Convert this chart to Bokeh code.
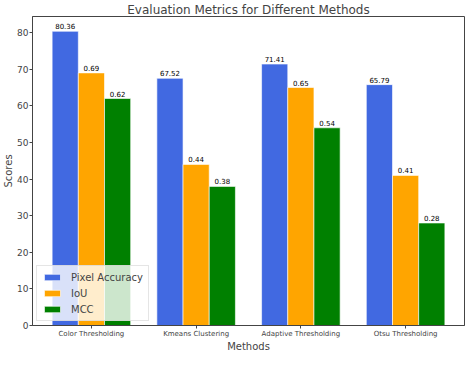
from bokeh.plotting import figure
from bokeh.models import ColumnDataSource, FactorRange, Legend, LegendItem, FixedTicker
from bokeh.transform import dodge
from bokeh.core.properties import value
from bokeh.embed import file_html
from bokeh.resources import INLINE

methods = ["Color Thresholding", "Kmeans Clustering", "Adaptive Thresholding", "Otsu Thresholding"]
pixel_accuracy = [80.36, 67.52, 71.41, 65.79]
iou = [0.69, 0.44, 0.65, 0.41]
mcc = [0.62, 0.38, 0.54, 0.28]
y_ticks = [0, 10, 20, 30, 40, 50, 60, 70, 80]

src = ColumnDataSource(dict(
    m=methods,
    pa=pixel_accuracy,
    iou=[v * 100 for v in iou],
    mcc=[v * 100 for v in mcc],
    pa_t=[f"{v:.2f}" for v in pixel_accuracy],
    iou_t=[f"{v:.2f}" for v in iou],
    mcc_t=[f"{v:.2f}" for v in mcc],
))

FONT = "DejaVu Sans"
p = figure(width=466, height=362, x_range=FactorRange(*methods, range_padding=0.03125),
           y_range=(0, 84.4), output_backend="svg", toolbar_location=None,
           title="Evaluation Metrics for Different Methods",
           min_border_left=0, min_border_right=2, min_border_bottom=37, min_border_top=0)

p.title.align = "center"
p.title.text_font = FONT
p.title.text_font_size = "12px"
p.title.text_font_style = "normal"
p.title.standoff = 0

w = 0.25
cols = [("pa", "pa_t", -0.25, "#4169E1", "Pixel Accuracy"),
        ("iou", "iou_t", 0.0, "#FFA500", "IoU"),
        ("mcc", "mcc_t", 0.25, "#008000", "MCC")]
items = []
for key, tkey, off, color, name in cols:
    r = p.vbar(x=dodge("m", off, range=p.x_range), top=key, width=w, source=src,
               fill_color=color, line_color="white", line_width=0.6)
    items.append(LegendItem(label=name, renderers=[r]))
    p.text(x=dodge("m", off, range=p.x_range), y=key, text=tkey, source=src,
           text_align="center", text_baseline="bottom", text_font=value(FONT),
           text_font_size="7px", text_color="black", y_offset=-2)

legend = Legend(items=items, location="bottom_left", label_text_font=FONT,
                label_text_font_size="10px", background_fill_alpha=0.8,
                border_line_color="#cccccc", glyph_width=20, glyph_height=8,
                label_height=12, spacing=4, padding=5, margin=4,
                label_standoff=9)
p.add_layout(legend)

p.xgrid.visible = False
p.ygrid.visible = False
p.outline_line_color = "#444444"
p.outline_line_width = 1

p.yaxis.ticker = FixedTicker(ticks=y_ticks)
for ax in (p.xaxis, p.yaxis):
    ax.axis_line_color = "#444444"
    ax.major_tick_line_color = "#444444"
    ax.minor_tick_line_color = None
    ax.major_tick_in = 0
    ax.major_tick_out = 3
    ax.major_label_text_font = FONT
    ax.axis_label_text_font = FONT
    ax.axis_label_text_font_style = "normal"
    ax.axis_label_text_font_size = "10px"
    ax.major_label_standoff = 1

p.xaxis.major_label_text_font_size = "7px"
p.yaxis.major_label_text_font_size = "9px"
p.xaxis.axis_label = "Methods"
p.yaxis.axis_label = "Scores"
p.xaxis.axis_label_standoff = 0
p.yaxis.axis_label_standoff = 0

open("out.html", "w").write(file_html(p, INLINE))
